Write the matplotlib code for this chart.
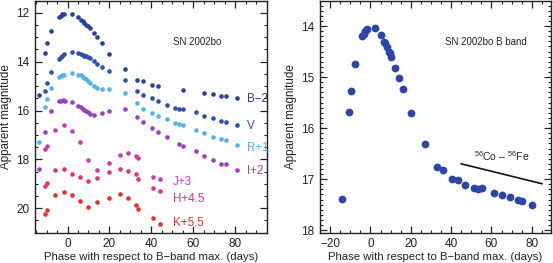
import matplotlib
matplotlib.use("Agg")
import matplotlib.pyplot as plt
from matplotlib.ticker import MultipleLocator

plt.rcParams['font.family'] = ['Liberation Sans', 'DejaVu Sans']
plt.rcParams['mathtext.fontset'] = 'custom'
plt.rcParams['mathtext.rm'] = 'Liberation Sans'

# ---------------- data (left panel) ----------------
b_days = [-13.8, -10.8, -9.8, -7.8, -4.0, -3.2, -2.4, -1.6, 2.2, 5.2, 6.4, 7.3, 8.1, 8.9,
          9.7, 10.5, 12.4, 14.3, 16.4, 20.0, 27.3, 33.0, 36.2, 40.3, 43.3, 55.2, 65.2,
          69.2, 73.0, 75.4, 80.7]
b_mag = [15.36, 13.66, 13.25, 12.75, 12.19, 12.12, 12.07, 12.04, 12.05, 12.16, 12.30, 12.35,
         12.42, 12.49, 12.56, 12.62, 12.82, 13.01, 13.24, 13.69, 14.30, 14.75, 14.78, 14.95,
         15.00, 15.16, 15.29, 15.33, 15.39, 15.41, 15.49]

v_days = [-10.8, -9.8, -7.8, -4.0, -3.2, -2.4, -1.6, 2.2, 5.2, 6.4, 7.3, 8.1, 8.9, 9.7, 10.5,
          12.4, 14.3, 16.4, 20.0, 27.3, 33.0, 36.2, 40.3, 43.3, 47.3, 51.3, 53.3, 55.2, 61.3,
          65.2, 69.2, 73.0, 75.4, 80.7]
v_mag = [15.22, 14.88, 14.41, 13.90, 13.82, 13.75, 13.68, 13.62, 13.66, 13.69, 13.71, 13.75,
         13.77, 13.80, 13.85, 13.97, 14.11, 14.24, 14.40, 14.75, 15.22, 15.38, 15.50, 15.62,
         15.77, 15.88, 15.93, 15.94, 16.08, 16.22, 16.31, 16.41, 16.47, 16.58]

r_days = [-13.8, -10.8, -9.8, -7.8, -4.0, -3.2, -2.4, -1.6, 2.2, 5.2, 6.4, 7.3, 8.1, 8.9, 9.7,
          10.5, 12.4, 14.3, 16.4, 20.0, 27.3, 33.0, 36.2, 40.3, 43.3, 47.3, 51.3, 53.3, 55.2,
          61.3, 65.2, 69.2, 73.0, 75.4, 80.7]
r_mag = [17.29, 15.86, 15.53, 15.06, 14.64, 14.58, 14.54, 14.54, 14.47, 14.54, 14.56, 14.61,
         14.67, 14.72, 14.79, 14.86, 14.99, 15.06, 15.13, 15.13, 15.27, 15.69, 15.93, 16.10,
         16.21, 16.35, 16.51, 16.56, 16.60, 16.79, 16.92, 17.09, 17.16, 17.22, 17.40]

i_days = [-13.8, -10.8, -7.8, -4.0, -3.2, -2.0, -1.0, 2.2, 5.2, 6.4, 7.3, 8.1, 8.9, 9.7, 10.5,
          12.4, 16.4, 20.0, 27.3, 33.0, 36.2, 40.3, 43.3, 47.3, 53.3, 55.2, 61.3, 65.2, 69.2,
          73.0, 75.4, 80.7]
i_mag = [18.39, 16.86, 16.04, 15.63, 15.62, 15.57, 15.60, 15.66, 15.81, 15.86, 15.92, 15.97,
         16.03, 16.07, 16.13, 16.18, 16.12, 16.04, 15.94, 16.27, 16.49, 16.72, 16.90, 17.09,
         17.37, 17.44, 17.67, 17.88, 18.04, 18.19, 18.19, 18.45]

nir_days = [-10.8, -9.8, -5.9, -1.9, 2.1, 6.0, 10.0, 14.0, 19.8, 24.8, 28.7, 32.7, 33.8,
            40.6, 44.1]
j_mag = [17.58, 17.44, 16.79, 16.61, 16.83, 17.27, 18.04, 18.45, 18.15, 17.81, 17.74, 17.88,
         17.94, 18.72, 18.80]
h_mag = [19.10, 18.96, 18.45, 18.39, 18.58, 18.72, 18.87, 18.76, 18.51, 18.38, 18.49, 18.60,
         18.80, 19.17, 19.28]
k_mag = [20.23, 20.09, 19.45, 19.33, 19.47, 19.69, 19.96, 19.74, 19.58, 19.40, 19.59, 19.85,
         20.01, 20.39, 20.64]

band_labels = ['B\u22122', 'V', 'R+1', 'I+2', 'J+3', 'H+4.5', 'K+5.5']

# ---------------- data (right panel) ----------------
bb_days = [-13.9, -10.8, -9.8, -7.6, -4.0, -3.3, -2.5, -1.7, 2.3, 5.3, 6.5, 7.4, 8.3, 9.1,
           9.6, 10.4, 12.4, 14.2, 16.2, 20.3, 27.1, 33.1, 36.2, 40.2, 43.2, 47.1, 51.1,
           53.3, 55.3, 61.2, 65.2, 69.1, 72.9, 75.1, 80.2]
bb_mag = [17.38, 15.68, 15.28, 14.75, 14.20, 14.15, 14.10, 14.05, 14.04, 14.18, 14.31, 14.33,
          14.42, 14.50, 14.53, 14.60, 14.83, 15.02, 15.24, 15.70, 16.31, 16.77, 16.82, 16.99,
          17.02, 17.11, 17.17, 17.19, 17.17, 17.27, 17.32, 17.36, 17.40, 17.43, 17.51]

co_days = [45.0, 85.0]
co_mag = [16.70, 17.09]

# ---------------- figure ----------------
fig = plt.figure(figsize=(5.53, 2.63), dpi=100)
ax1 = fig.add_axes([35 / 553, 1 - 232.7 / 263, (266.7 - 35) / 553, 232.7 / 263 - 0.002])
ax2 = fig.add_axes([320 / 553, 1 - 232.7 / 263, (551 - 320) / 553, 232.7 / 263 - 0.002])

cols = ['#2a3f9f', '#2f4fb0', '#56b2e3', '#9a3fbf', '#c23fb3', '#e8307a', '#e63027']
series = [(b_days, b_mag), (v_days, v_mag), (r_days, r_mag), (i_days, i_mag),
          (nir_days, j_mag), (nir_days, h_mag), (nir_days, k_mag)]
for (d, m), c in zip(series, cols):
    ax1.plot(d, m, 'o', color=c, ms=3.3, mec='none')

lab_pos = [(85.4, 15.53), (85.4, 16.65), (85.4, 17.53), (85.4, 18.49),
           (50.2, 18.94), (50.2, 19.64), (50.2, 20.62)]
for (x, y), t, c in zip(lab_pos, band_labels, cols):
    ax1.text(x, y, t, color=c, fontsize=8.3, ha='left', va='center')
ax1.text(50.2, 13.21, 'SN 2002bo', fontsize=7, ha='left', va='center', color='#222222')

ax1.set_xlim(-15.5, 95)
ax1.set_ylim(21.0, 11.5)
ax1.xaxis.set_major_locator(MultipleLocator(20))
ax1.xaxis.set_minor_locator(MultipleLocator(5))
ax1.yaxis.set_major_locator(MultipleLocator(2))
ax1.yaxis.set_minor_locator(MultipleLocator(0.5))

ax2.plot(bb_days, bb_mag, 'o', color='#2e45a8', ms=5.6, mec='none')
ax2.plot(co_days, co_mag, '-', color='#111111', lw=1.2)
ax2.text(65, 16.54, '$^{56}$Co \u2013 $^{56}$Fe', fontsize=7.5, ha='center', va='center',
         color='#222222')
ax2.text(57, 14.32, 'SN 2002bo B band', fontsize=7, ha='center', va='center', color='#222222')
ax2.set_xlim(-25, 89.5)
ax2.set_ylim(18.05, 13.5)
ax2.xaxis.set_major_locator(MultipleLocator(20))
ax2.xaxis.set_minor_locator(MultipleLocator(5))
ax2.yaxis.set_major_locator(MultipleLocator(1))
ax2.yaxis.set_minor_locator(MultipleLocator(0.1))

for ax in (ax1, ax2):
    ax.tick_params(which='both', direction='in', top=True, right=True, labelsize=8.5,
                   color='#222222', labelcolor='#222222', pad=4)
    ax.tick_params(which='major', length=5, width=0.9)
    ax.tick_params(which='minor', length=2.5, width=0.8)
    for s in ax.spines.values():
        s.set_linewidth(1.0)
        s.set_color('#222222')
    ax.set_xlabel('Phase with respect to B\u2212band max. (days)', fontsize=8.2,
                  color='#222222', labelpad=1)
    ax.set_ylabel('Apparent magnitude', fontsize=8.4, color='#222222', labelpad=3)

fig.savefig('out.png', dpi=100)
